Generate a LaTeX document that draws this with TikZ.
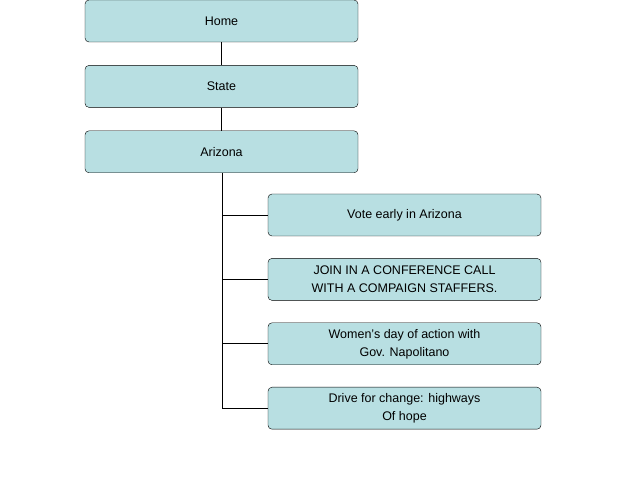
\documentclass[tikz,border=0pt]{standalone}
\usepackage{fontspec}
\setmainfont{Liberation Sans}
\usetikzlibrary{positioning}
\definecolor{boxfill}{RGB}{184,223,226}
\begin{document}
\begin{tikzpicture}[
        x=1pt, y=1pt,
        % boxes of the tree
        entry/.style={draw, fill=boxfill, rounded corners=4pt, minimum width=273pt,
            minimum height=42pt, align=center, font=\fontsize{12.5}{18}\selectfont},
        link/.style={thick},
    ]
    \useasboundingbox (0,0) rectangle (638,-478);
    \node [entry] (home) at (221.5,-21) {Home};
    \node [entry, below=23pt of home] (state) {State};
    \node [entry, below=23pt of state] (arizona) {Arizona};
    \node [entry] (vote) at (404.5,-215) {Vote early in Arizona};
    \node [entry, below=22pt of vote] (call) {JOIN IN A CONFERENCE CALL\\WITH A COMPAIGN STAFFERS.};
    \node [entry, below=22pt of call] (women) {Women's day of action with\\Gov. Napolitano};
    \node [entry, below=22pt of women] (drive) {Drive for change: highways\\Of hope};
    \draw [link] (home) -- (state);
    \draw [link] (state) -- (arizona);
    \coordinate (trunk) at ([xshift=0.5pt]arizona.south);
    \draw [link] (trunk) |- (drive.west);
    \foreach \n in {vote, call, women}
        \draw [link] (trunk |- \n.west) -- (\n.west);
\end{tikzpicture}
\end{document}
